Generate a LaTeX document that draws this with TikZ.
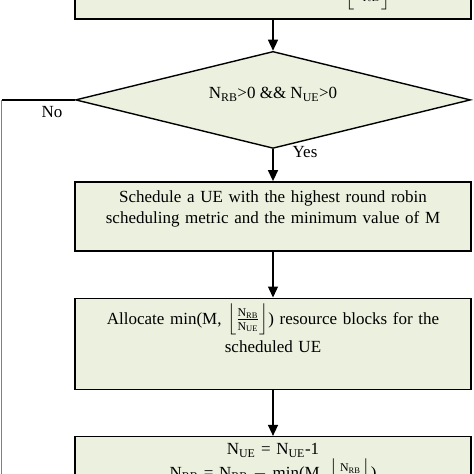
\documentclass[tikz,border=0pt]{standalone}
\usepackage{amsmath}
\usepackage{fontspec}
\setmainfont{Liberation Serif}
\usetikzlibrary{positioning,shapes.geometric,arrows.meta}
\definecolor{boxgreen}{RGB}{235,241,222}
\tikzset{
	every path/.style = {line width=1.4pt},
	flow/.style = {-{Triangle[length=11pt,width=10pt]}},
	block/.style = {draw, rectangle, fill=boxgreen, minimum width=396pt, text width=384pt, align=center, font=\fontsize{17}{21}\selectfont},
	cond/.style = {draw, diamond, aspect=4, fill=boxgreen, minimum width=395pt, minimum height=97pt, inner sep=0pt, text depth=14pt, font=\fontsize{17}{20}\selectfont},
	tag/.style = {font=\fontsize{17}{20}\selectfont}
}
\newcommand{\nsub}[1]{N\textsubscript{#1}}
\newcommand{\ratio}{$\left\lfloor\frac{\text{N}_\text{RB}}{\text{N}_\text{UE}}\right\rfloor$}

\begin{document}
\begin{tikzpicture}
		\useasboundingbox (0,0) rectangle (474pt,-474pt);
		\node[block, minimum height=60pt] (init) at (273pt,11pt) {};
		\node[anchor=base, font=\fontsize{17}{20}\selectfont] (rrb) at (368pt,1pt) {$\Big\lfloor r_{RB} \Big\rfloor$};
		\node[cond, below = 31pt of init] (check) {\nsub{RB}>0 \&\& \nsub{UE}>0};
		\node[block, minimum height=69pt, below = 32pt of check] (sched) {Schedule a UE with the highest round robin\\ scheduling metric and the minimum value of M\\[-2pt]\mbox{}};
		\node[block, minimum height=91pt, below = 46pt of sched] (alloc) {Allocate min(M,\ \ratio) resource blocks for the\\[4pt] scheduled UE\\[10pt]\mbox{}};
		\node[block, minimum height=60pt, below = 46pt of alloc] (update) {\nsub{UE} = \nsub{UE}-1\\ \nsub{RB} = \nsub{RB} $-$ min(M, \ratio)};
		\coordinate (noend) at (1.5pt,-474pt);
		\node[tag] (nolbl) at (52pt,-112pt) {No};
		\node[tag] (yeslbl) at (305pt,-152pt) {Yes};

		\draw[flow] (init) -- (check);
		\draw[flow] (check) -- (sched);
		\draw[flow] (sched) -- (alloc);
		\draw[flow] (alloc) -- (update);
		\draw (check.west) -- (check.west -| noend);
		\draw[gray] (check.west -| noend) -- (noend);
	\end{tikzpicture}
\end{document}
